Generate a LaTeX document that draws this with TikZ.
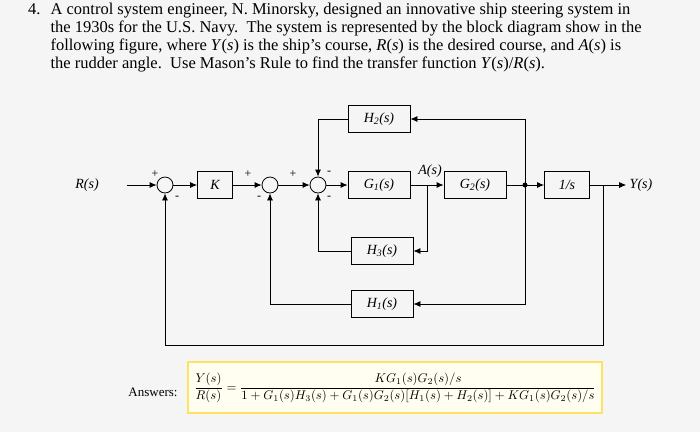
\documentclass[tikz,border=0pt]{standalone}
\usepackage{fontspec}
\setmainfont{Liberation Serif}
\usetikzlibrary{arrows.meta}
\begin{document}
\begin{tikzpicture}[x=1pt,y=-1pt,
  blk/.style={draw,thick,minimum width=62pt,minimum height=27pt,font=\fontsize{14}{14}\selectfont\itshape,inner sep=0pt},
  sumn/.style={draw,thick,circle,minimum size=16pt,inner sep=0pt},
  sig/.style={font=\fontsize{12}{12}\selectfont},
  ln/.style={thick},
  arr/.style={thick,-{Latex[length=7pt,width=6pt]}},
  lbl/.style={font=\fontsize{14}{14}\selectfont\itshape}]
\fill[black!4] (0,0) rectangle (700,432);
\useasboundingbox (0,0) rectangle (700,432);
% question text
\node[anchor=north west,align=left,font=\fontsize{16.5}{18}\selectfont,inner sep=0pt] (q) at (28,3)
{4.\hspace{10pt}\parbox[t]{640pt}{A control system engineer, N. Minorsky, designed an innovative ship steering system in\\
the 1930s for the U.S. Navy.\ \ The system is represented by the block diagram show in the\\
following figure, where \textit{Y}(\textit{s}) is the ship's course, \textit{R}(\textit{s}) is the desired course, and \textit{A}(\textit{s}) is\\
the rudder angle.\ \ Use Mason's Rule to find the transfer function \textit{Y}(\textit{s})/\textit{R}(\textit{s}).}};
% blocks
\node[lbl] (R) at (87,185) {R(s)};
\node[sumn] (s1) at (165,185) {};
\node[blk,minimum width=35pt] (K) at (215,185) {K};
\node[sumn] (s2) at (270,185) {};
\node[sumn] (s3) at (318,185) {};
\node[blk] (G1) at (379,185) {G\textsubscript{1}(s)};
\node[blk] (G2) at (475,185) {G\textsubscript{2}(s)};
\node[blk,minimum width=45pt] (I) at (567,185) {1/s};
\node[lbl] (Y) at (641,185) {Y(s)};
\node[blk] (H2) at (379,119) {H\textsubscript{2}(s)};
\node[blk] (H3) at (382,251) {H\textsubscript{3}(s)};
\node[blk] (H1) at (382,304) {H\textsubscript{1}(s)};
\coordinate (a) at (427,185);
\coordinate (d) at (525,185);
\coordinate (y) at (603,185);
\fill (d) circle (2.5pt);
\node[lbl,anchor=south] at (430,181) {A(s)};
% forward
\draw[arr] (R.east)++(25,0) -- (s1.west);
\draw[arr] (s1) -- (K);
\draw[arr] (K) -- (s2);
\draw[arr] (s2) -- (s3);
\draw[arr] (s3) -- (G1);
\draw[arr] (G1) -- (G2);
\draw[arr] (G2) -- (I);
\draw[arr] (I) -- (Y.west);
% feedbacks
\draw[arr] (d) |- (H2.east);
\draw[arr] (H2.west) -| (s3.north);
\draw[arr] (a) |- (H3.east);
\draw[arr] (H3.west) -| (s3.south);
\draw[arr] (d) |- (H1.east);
\draw[arr] (H1.west) -| (s2.south);
\draw[arr] (y) |- (165,345) -- (s1.south);
% signs
\node[sig] at (155,174) {+};
\node[sig] at (177,198) {-};
\node[sig] at (248,174) {+};
\node[sig] at (259,198) {-};
\node[sig] at (293,174) {+};
\node[sig] at (329,173) {-};
\node[sig] at (329,198) {-};
% answer
\node[font=\fontsize{13}{13}\selectfont] (ans) at (153,392) {Answers:};
\draw[yellow!70!orange!60,line width=1.2pt,fill=yellow!6] (188,362) rectangle (602,413);
\node[inner sep=0pt] (eq) at (395,388)
{\resizebox{402pt}{!}{$\displaystyle\frac{Y(s)}{R(s)}=\frac{KG_1(s)G_2(s)/s}{1+G_1(s)H_3(s)+G_1(s)G_2(s)[H_1(s)+H_2(s)]+KG_1(s)G_2(s)/s}$}};
\end{tikzpicture}
\end{document}
